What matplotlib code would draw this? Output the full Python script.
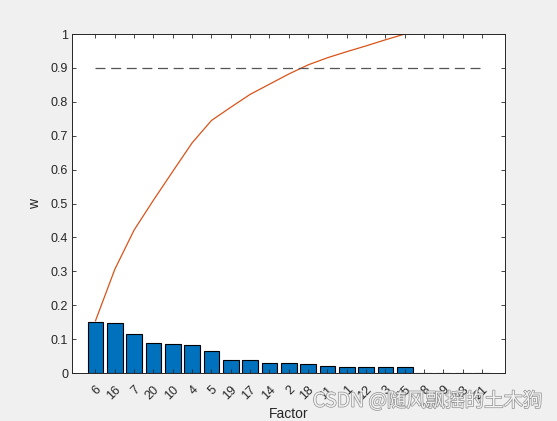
import matplotlib
matplotlib.use("Agg")
import matplotlib.pyplot as plt
import matplotlib.patheffects as pe
import matplotlib.transforms as mtransforms

# factor names in pareto order
factors = ["6", "16", "7", "20", "10", "4", "5", "19", "17", "14", "2",
           "18", "11", "1", "12", "3", "15", "8", "9", "13", "21"]
# bar heights (w)
weights = [0.151, 0.148, 0.114, 0.088, 0.085, 0.082, 0.064, 0.038, 0.038,
           0.029, 0.029, 0.026, 0.020, 0.018, 0.018, 0.018, 0.018,
           0.0, 0.0, 0.0, 0.0]
# cumulative curve (only drawn up to where it hits 1)
cumulative = [0.154, 0.306, 0.422, 0.510, 0.595, 0.679, 0.745, 0.784,
              0.822, 0.852, 0.882, 0.909, 0.930, 0.948, 0.965, 0.983, 1.0]
threshold = 0.9

plt.rcParams["font.family"] = ["Liberation Sans", "DejaVu Sans"]
txt = "#262626"

fig = plt.figure(figsize=(5.57, 4.21), dpi=100, facecolor="#f0f0f0")
ax = fig.add_axes([0.1298, 0.114, 0.7774, 0.8052])

x = list(range(1, len(factors) + 1))
ax.bar(x, weights, width=0.8, color="#0072bd", edgecolor="black", linewidth=0.8)
ax.plot(x[:len(cumulative)], cumulative, color="#d95319", linewidth=0.9)
ax.plot([x[0], x[-1]], [threshold, threshold], color="#555555",
        linewidth=0.9, dashes=(8, 4.5))

ax.set_xlim(-0.2, 22.2)
ax.set_ylim(0, 1)
ax.set_xticks(x)
ax.set_xticklabels(factors, rotation=45, ha="right", va="center",
                   rotation_mode="anchor")
ax.set_yticks([i / 10 for i in range(11)])
ax.set_yticklabels(["0"] + ["0.%d" % i for i in range(1, 10)] + ["1"])
ax.tick_params(direction="in", length=2.8, width=0.6, labelsize=9,
               colors=txt, top=True, right=True, pad=3)
ax.tick_params(axis="x", pad=11)
# nudge rotated labels a little to the right, like matlab does
shift = mtransforms.ScaledTranslation(4 / 100, 0, fig.dpi_scale_trans)
for lab in ax.get_xticklabels():
    lab.set_transform(lab.get_transform() + shift)
for s in ax.spines.values():
    s.set_color(txt)
    s.set_linewidth(0.7)

ax.set_xlabel("Factor", fontsize=10, color=txt, labelpad=3)
ax.set_ylabel("w", fontsize=10, color=txt, labelpad=6)

fig.text(0.975, 0.047, "CSDN @随风飘摇的土木狗", ha="right", va="center",
         fontsize=14, color="#f2f2f2",
         family=["Noto Sans CJK SC", "DejaVu Sans"],
         path_effects=[pe.withStroke(linewidth=1.0, foreground="#909090")])

fig.savefig("out.png", dpi=100, facecolor=fig.get_facecolor())
